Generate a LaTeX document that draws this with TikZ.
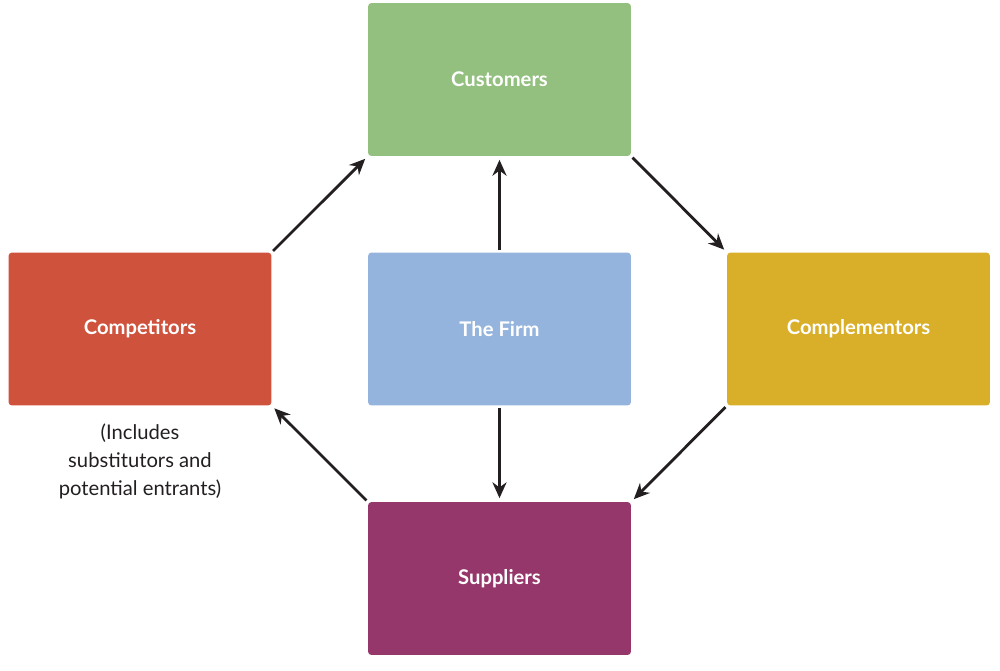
\documentclass[tikz,border=0pt]{standalone}
\usepackage{fontspec}
\setmainfont{Lato}
\usetikzlibrary{arrows.meta}
\definecolor{cgreen}{HTML}{93BF7F}
\definecolor{cblue}{HTML}{94B4DE}
\definecolor{cred}{HTML}{CF523D}
\definecolor{cyellow}{HTML}{D9AF2A}
\definecolor{cpurple}{HTML}{96376B}
\definecolor{ctext}{HTML}{231F20}
\begin{document}
\begin{tikzpicture}[x=0.02cm,y=-0.02cm,
  box/.style={draw=none,rounded corners=2pt,minimum width=5.26cm,minimum height=3.06cm,inner sep=0pt,
    text=white,font=\fontsize{11.5}{14}\selectfont\bfseries},
  arr/.style={-{Stealth[length=9pt,width=8pt]},line width=1.6pt,draw=ctext,shorten >=2pt,shorten <=1pt}]
\useasboundingbox (0,0) rectangle (1000,670);
\node[box,fill=cgreen] (cus) at (499.5,79.5) {Customers};
\node[box,fill=cblue] (firm) at (499.5,329) {The Firm};
\node[box,fill=cred] (com) at (140,329) {Competitors};
\node[box,fill=cyellow] (cpl) at (858.5,329) {Complementors};
\node[box,fill=cpurple] (sup) at (499.5,578.5) {Suppliers};
\node[align=center,text=ctext,font=\fontsize{11.5}{16}\selectfont] (note) at (140,461) {(Includes\\substitutors and\\potential entrants)};
\draw[arr] (com.north east) -- (cus.south west);
\draw[arr] (cus.south east) -- (cpl.north west);
\draw[arr] (cpl.south west) -- (sup.north east);
\draw[arr] (sup.north west) -- (com.south east);
\draw[arr] (firm.north) -- (cus.south);
\draw[arr] (firm.south) -- (sup.north);
\end{tikzpicture}
\end{document}
